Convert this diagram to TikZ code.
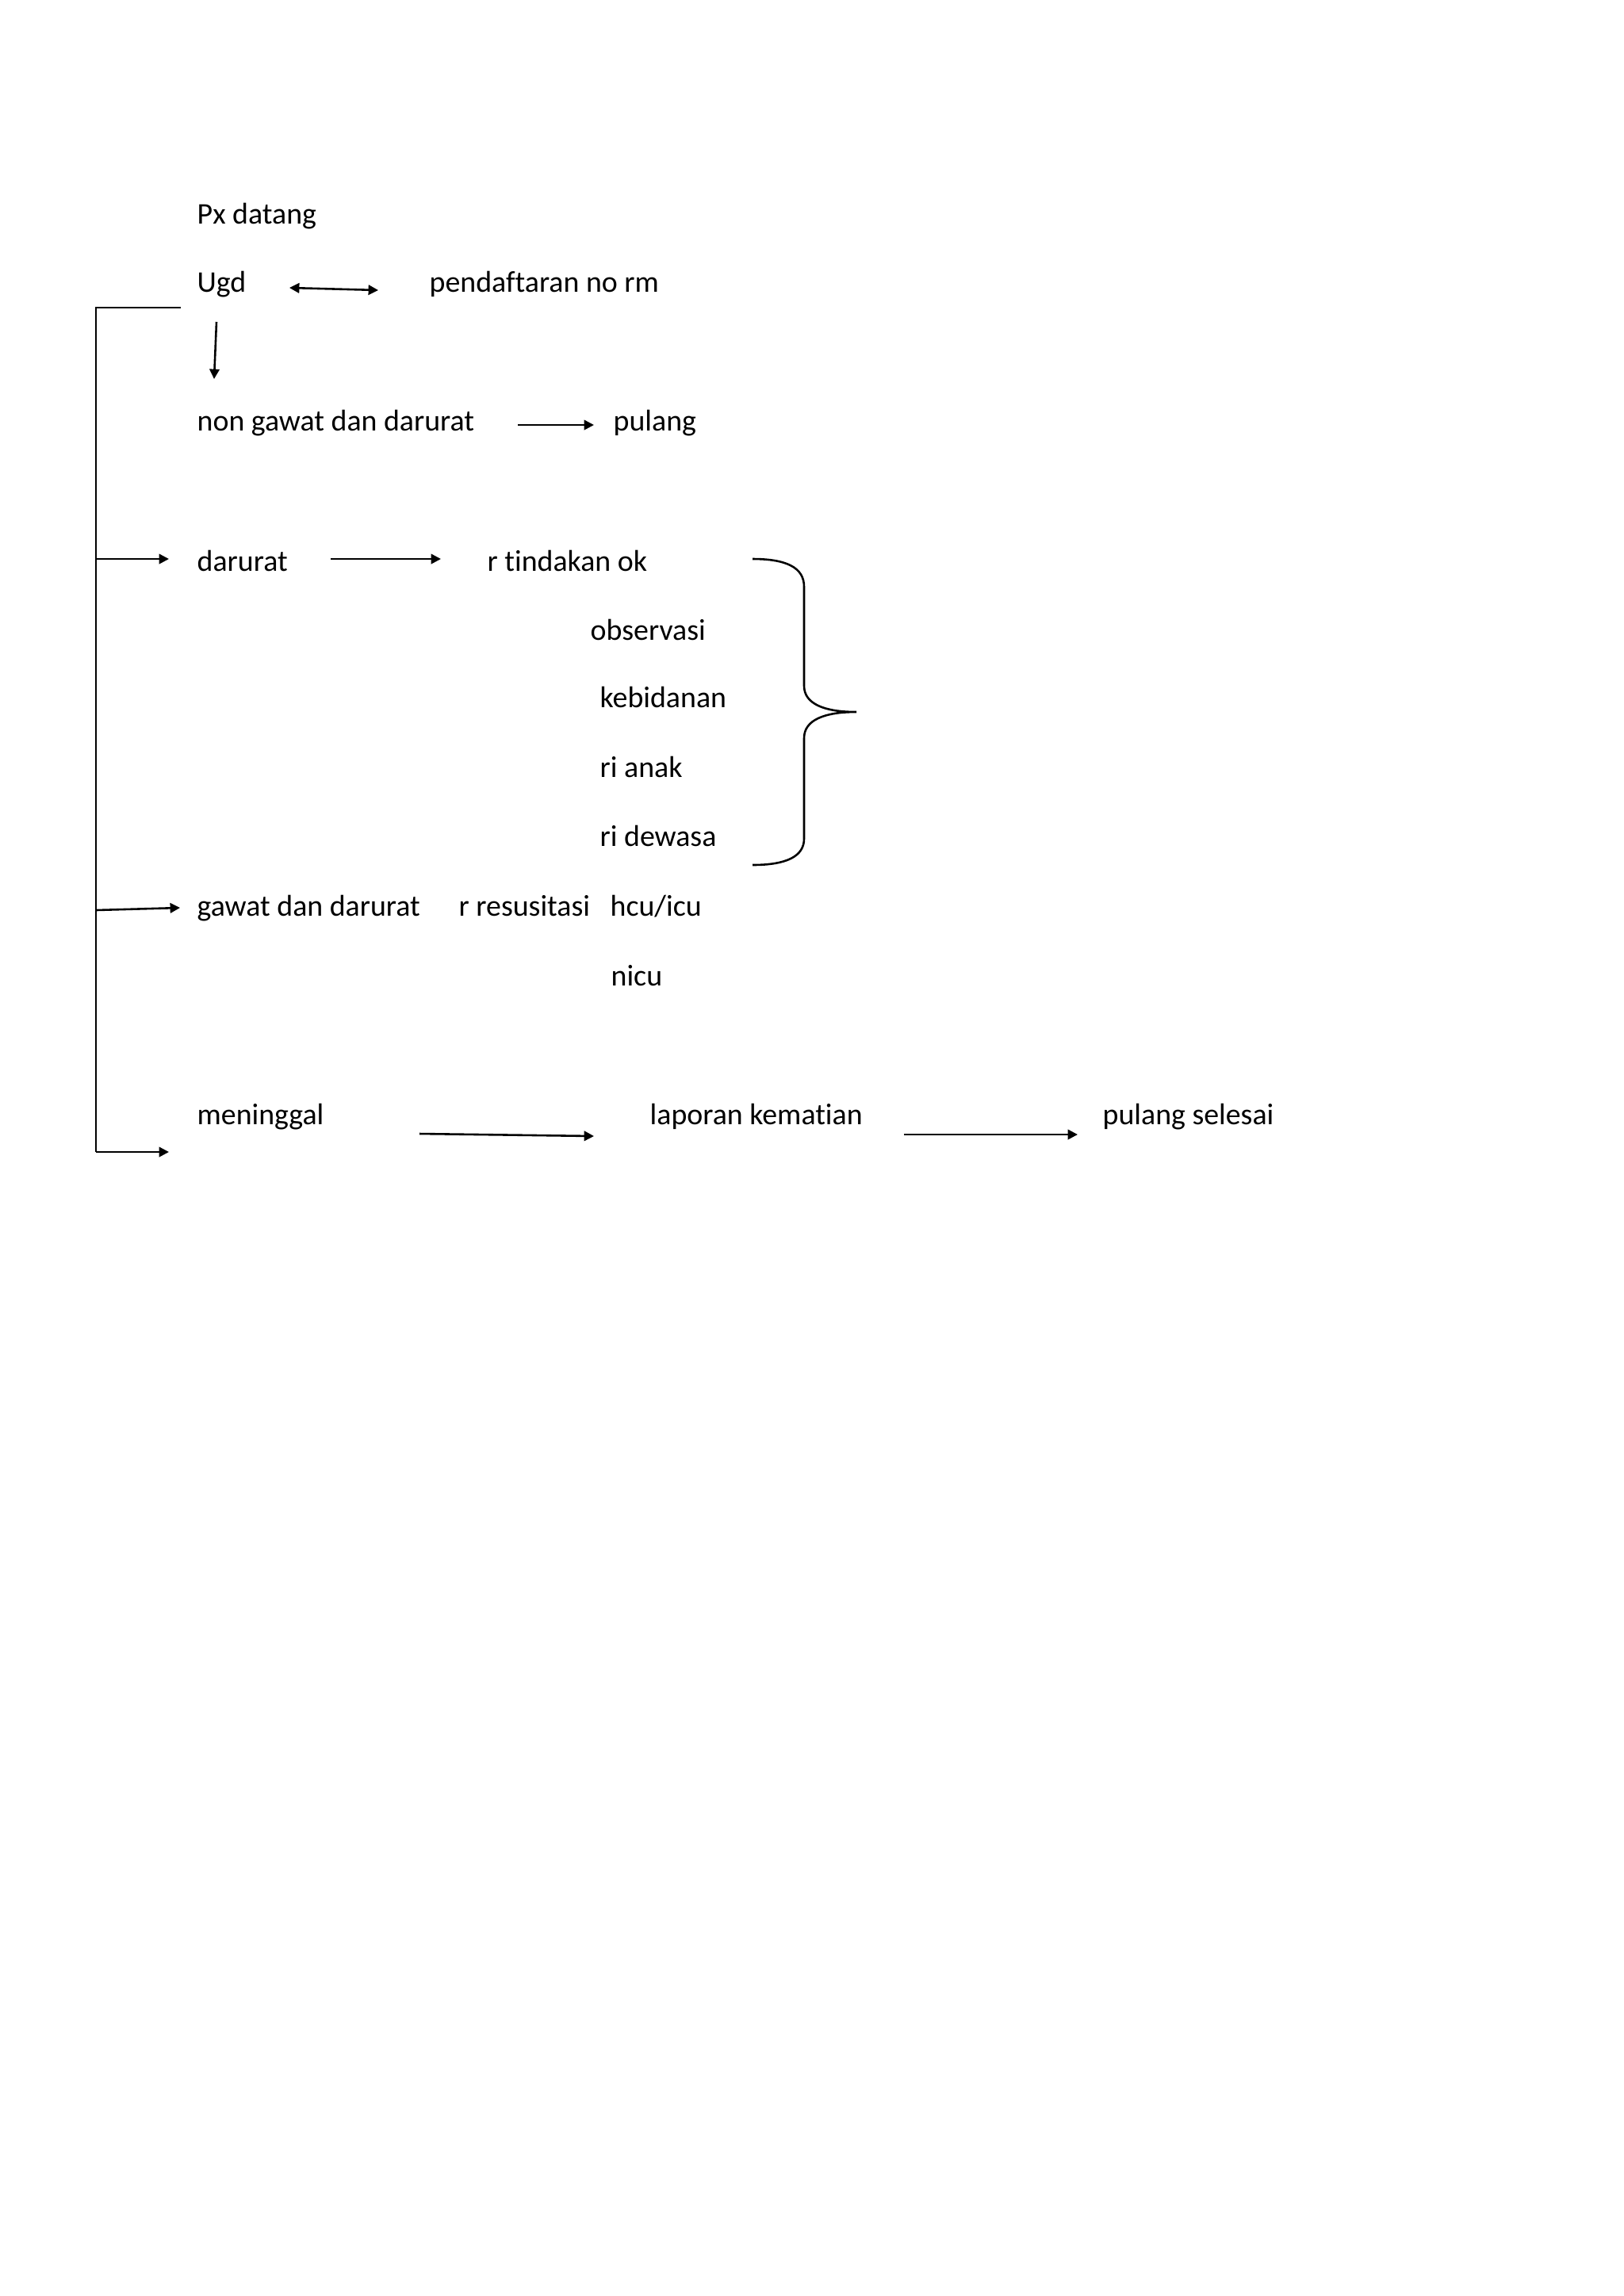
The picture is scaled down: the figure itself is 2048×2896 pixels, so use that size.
\documentclass[tikz,border=0pt]{standalone}
\usepackage{fontspec}
\setmainfont[Ligatures={NoCommon,NoContextual},Contextuals=NoAlternate,RawFeature={-liga;-clig;-calt;-dlig}]{Carlito}
\usetikzlibrary{arrows.meta}
\begin{document}
\begin{tikzpicture}[x=0.2905pt,y=-0.2905pt,
  lbl/.style={anchor=base west,inner sep=0pt,font=\fontsize{11pt}{13pt}\selectfont},
  conn/.style={line width=0.75pt},
  arr/.style={conn,-{Triangle[length=3.6pt,width=3.6pt]}},
  darr/.style={conn,{Triangle[length=3.6pt,width=3.6pt]}-{Triangle[length=3.6pt,width=3.6pt]}}]
\useasboundingbox[fill=white] (0,0) rectangle (2048,2896);
% texts
\node[lbl] (px) at (248,282) {Px datang};
\node[lbl] (ugd) at (248,368) {Ugd};
\node[lbl] (daftar) at (541,368) {pendaftaran no rm};
\node[lbl] (non) at (248,543) {non gawat dan darurat};
\node[lbl] (pulang) at (773,543) {pulang};
\node[lbl] (darurat) at (248,720) {darurat};
\node[lbl] (tindakan) at (614,720) {r tindakan ok};
\node[lbl] (obs) at (744,807) {observasi};
\node[lbl] (keb) at (756,892) {kebidanan};
\node[lbl] (anak) at (756,980) {ri anak};
\node[lbl] (dewasa) at (756,1067) {ri dewasa};
\node[lbl] (gawat) at (248,1155) {gawat dan darurat};
\node[lbl] (resus) at (578,1155) {r resusitasi};
\node[lbl] (hcu) at (769,1155) {hcu/icu};
\node[lbl] (nicu) at (770,1243) {nicu};
\node[lbl] (mati) at (248,1418) {meninggal};
\node[lbl] (lapor) at (819,1418) {laporan kematian};
\node[lbl] (selesai) at (1390,1418) {pulang selesai};
% connector ends
\coordinate (u1) at (365,363);
\coordinate (u2) at (477,366);
\coordinate (d1) at (273,406);
\coordinate (d2) at (270,478);
\coordinate (p1) at (653,536);
\coordinate (p2) at (749,536);
\coordinate (top) at (228,388);
\coordinate (corner) at (121,388);
\coordinate (b1) at (121,705);
\coordinate (b1e) at (213,705);
\coordinate (t1) at (417,705);
\coordinate (t2) at (556,705);
\coordinate (g1) at (121,1148);
\coordinate (g1e) at (227,1145);
\coordinate (bot) at (121,1453);
\coordinate (bote) at (213,1453);
\coordinate (m1) at (529,1430);
\coordinate (m2) at (749,1433);
\coordinate (l1) at (1140,1431);
\coordinate (l2) at (1359,1431);
% connectors
\draw[darr] (u1) -- (u2);
\draw[arr] (d1) -- (d2);
\draw[arr] (p1) -- (p2);
\draw[conn] (top) -- (corner) -- (bot);
\draw[arr] (bot) -- (bote);
\draw[arr] (b1) -- (b1e);
\draw[arr] (t1) -- (t2);
\draw[arr] (g1) -- (g1e);
\draw[arr] (m1) -- (m2);
\draw[arr] (l1) -- (l2);
% brace
\coordinate (brtop) at (949,705);
\coordinate (brtip) at (1080,898);
\coordinate (brbot) at (949,1091);
\draw[conn] (brtop) .. controls (992,705) and (1014,716) .. (1014,740)
  -- (1014,865) .. controls (1014,888) and (1040,898) .. (brtip)
  .. controls (1040,898) and (1014,908) .. (1014,931)
  -- (1014,1058) .. controls (1014,1080) and (992,1091) .. (brbot);
\end{tikzpicture}
\end{document}
